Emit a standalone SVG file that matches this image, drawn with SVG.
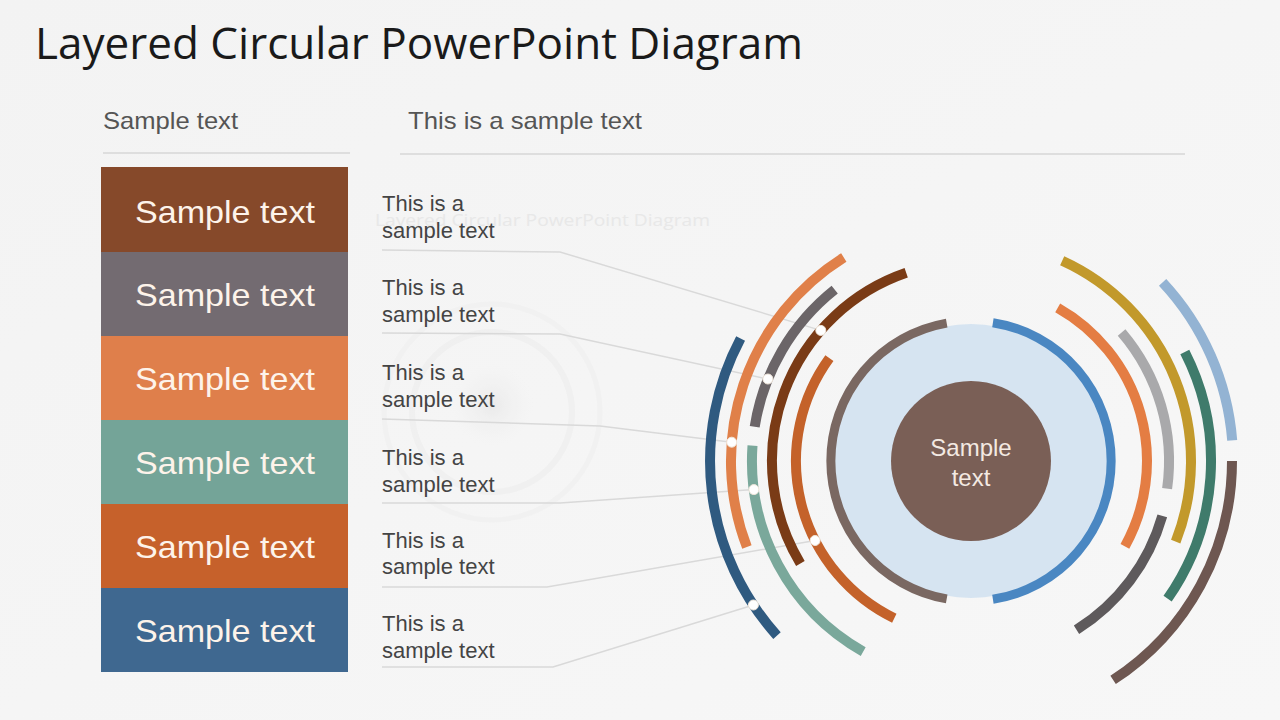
<svg xmlns="http://www.w3.org/2000/svg" width="1280" height="720" viewBox="0 0 1280 720">
<defs>
<style>
.title{font-family:"Open Sans","Liberation Sans",sans-serif;font-size:44px;fill:#1a1a1a}
.hdr{font-family:"Liberation Sans",Arial,sans-serif;font-size:24px;fill:#555}
.item{font-family:"Liberation Sans",Arial,sans-serif;font-size:22px;fill:#444}
.box{font-family:"Liberation Sans",Arial,sans-serif;font-size:32px;fill:#fdf3ea;text-anchor:middle}
.ctr{font-family:"Liberation Sans",Arial,sans-serif;font-size:24px;fill:#f3e9e2;text-anchor:middle}
.arc{fill:none;stroke-width:10}
.ring{fill:none;stroke-width:9}
.dot{fill:#fff;stroke:#f0e6da;stroke-width:1}
.conn{fill:none;stroke:#d9d9d9;stroke-width:1.5}
.rule{stroke:#dedede;stroke-width:2}
</style>
<linearGradient id="bg" x1="0" y1="0" x2="1" y2="1">
<stop offset="0" stop-color="#f3f3f3"/><stop offset="1" stop-color="#f7f7f7"/>
</linearGradient>
<radialGradient id="ghost" cx="0.5" cy="0.5" r="0.5">
<stop offset="0" stop-color="#e6e6e6"/><stop offset="1" stop-color="#f3f3f3" stop-opacity="0"/>
</radialGradient>
</defs>
<rect width="1280" height="720" fill="url(#bg)"/>

<g id="ghost-layer" opacity="0.7">
<text x="375" y="226" font-family="Open Sans, Liberation Sans, sans-serif" font-size="17" fill="#e3e3e3" textLength="335" lengthAdjust="spacingAndGlyphs">Layered Circular PowerPoint Diagram</text>
<circle cx="492" cy="405" r="42" fill="url(#ghost)"/>
<circle cx="492" cy="412" r="80" fill="none" stroke="#eeeeee" stroke-width="6"/>
<circle cx="492" cy="412" r="108" fill="none" stroke="#f0f0f0" stroke-width="5"/>
</g>

<text class="title" x="35" y="59" textLength="768" lengthAdjust="spacingAndGlyphs">Layered Circular PowerPoint Diagram</text>

<g id="headers">
<text class="hdr" x="103" y="129" textLength="135" lengthAdjust="spacingAndGlyphs">Sample text</text>
<text class="hdr" x="408" y="129" textLength="234" lengthAdjust="spacingAndGlyphs">This is a sample text</text>
<line class="rule" x1="103" y1="153" x2="350" y2="153"/>
<line class="rule" x1="400" y1="154" x2="1185" y2="154"/>
</g>

<g id="connectors">
<polyline class="conn" points="382,250 560,252 820.8,330.4"/>
<polyline class="conn" points="382,333 560,334 767.9,379"/>
<polyline class="conn" points="382,419 600,426 731.7,442.2"/>
<polyline class="conn" points="382,503 560,503 753.9,489.6"/>
<polyline class="conn" points="382,587 547,587 815.1,540.5"/>
<polyline class="conn" points="382,667 553,667 753.4,605"/>
</g>

<g id="box1"><rect x="101" y="167" width="247" height="85" fill="#86492a"/><text class="box" x="225" y="223" textLength="180" lengthAdjust="spacingAndGlyphs">Sample text</text></g>
<g id="box2"><rect x="101" y="252" width="247" height="84" fill="#736b71"/><text class="box" x="225" y="306" textLength="180" lengthAdjust="spacingAndGlyphs">Sample text</text></g>
<g id="box3"><rect x="101" y="336" width="247" height="84" fill="#df7f4b"/><text class="box" x="225" y="390" textLength="180" lengthAdjust="spacingAndGlyphs">Sample text</text></g>
<g id="box4"><rect x="101" y="420" width="247" height="84" fill="#74a498"/><text class="box" x="225" y="474" textLength="180" lengthAdjust="spacingAndGlyphs">Sample text</text></g>
<g id="box5"><rect x="101" y="504" width="247" height="84" fill="#c6612b"/><text class="box" x="225" y="558" textLength="180" lengthAdjust="spacingAndGlyphs">Sample text</text></g>
<g id="box6"><rect x="101" y="588" width="247" height="84" fill="#3f6890"/><text class="box" x="225" y="642" textLength="180" lengthAdjust="spacingAndGlyphs">Sample text</text></g>

<g id="items">
<g id="item1"><text class="item" x="382" y="211">This is a</text><text class="item" x="382" y="238">sample text</text></g>
<g id="item2"><text class="item" x="382" y="295">This is a</text><text class="item" x="382" y="322">sample text</text></g>
<g id="item3"><text class="item" x="382" y="380">This is a</text><text class="item" x="382" y="407">sample text</text></g>
<g id="item4"><text class="item" x="382" y="465">This is a</text><text class="item" x="382" y="492">sample text</text></g>
<g id="item5"><text class="item" x="382" y="548">This is a</text><text class="item" x="382" y="574">sample text</text></g>
<g id="item6"><text class="item" x="382" y="631">This is a</text><text class="item" x="382" y="658">sample text</text></g>
</g>

<g id="core">
<circle cx="971" cy="461" r="137" fill="#d6e4f1"/>
<path class="ring" stroke="#7a6862" d="M946.7 598.9 A140 140 0 0 1 946.7 323.1"/>
<path class="ring" stroke="#4a87c2" d="M992.9 322.7 A140 140 0 0 1 992.9 599.3"/>
<circle cx="971" cy="461" r="80" fill="#7a5f56"/>
<text class="ctr" x="971" y="456">Sample</text>
<text class="ctr" x="971" y="486">text</text>
</g>

<g id="left-arcs">
<path class="arc" stroke="#2f5a80" d="M777 635.6 A261 261 0 0 1 740.6 338.5"/>
<path class="arc" stroke="#e08049" d="M746.9 547 A240 240 0 0 1 843.8 257.5"/>
<path class="arc" stroke="#6b6568" d="M754.7 426.7 A219 219 0 0 1 834.7 289.6"/>
<path class="arc" stroke="#7aa89b" d="M863.2 651.6 A219 219 0 0 1 752.5 445.7"/>
<path class="arc" stroke="#7a3b16" d="M800.4 563.5 A199 199 0 0 1 906.2 272.8"/>
<path class="arc" stroke="#c4622a" d="M894.3 618.3 A175 175 0 0 1 829.4 358.1"/>
<circle class="dot" cx="820.8" cy="330.4" r="5"/>
<circle class="dot" cx="767.9" cy="379" r="5"/>
<circle class="dot" cx="731.7" cy="442.2" r="5"/>
<circle class="dot" cx="753.9" cy="489.6" r="5"/>
<circle class="dot" cx="815.1" cy="540.5" r="5"/>
<circle class="dot" cx="753.4" cy="605" r="5"/>
</g>

<g id="right-arcs">
<path class="arc" stroke="#e47d43" d="M1057.7 307.8 A176 176 0 0 1 1124.9 546.3"/>
<path class="arc" stroke="#a9a9ab" d="M1121.6 332.4 A198 198 0 0 1 1167.1 488.6"/>
<path class="arc" stroke="#5e5a5c" d="M1162.3 515.8 A199 199 0 0 1 1076.5 629.8"/>
<path class="arc" stroke="#c2992b" d="M1062.2 260.8 A220 220 0 0 1 1175.7 541.6"/>
<path class="arc" stroke="#3f7b6b" d="M1184.8 352 A240 240 0 0 1 1167.6 598.7"/>
<path class="arc" stroke="#93b3d3" d="M1162.6 282.3 A262 262 0 0 1 1232.2 440.4"/>
<path class="arc" stroke="#6e5751" d="M1232 461 A261 261 0 0 1 1113.1 679.9"/>
</g>
</svg>
